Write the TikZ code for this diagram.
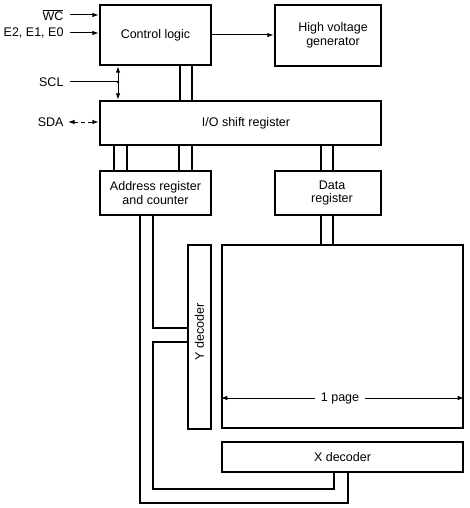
\documentclass[tikz,border=0pt]{standalone}
\usepackage{fontspec}
\setmainfont{Liberation Sans}
\usetikzlibrary{arrows.meta}

\tikzset{
  box/.style={draw, line width=2.4pt, inner sep=0pt, align=center},
  bus/.style={line width=1.5pt},
  sig/.style={line width=1pt, -{Latex[length=6.5pt,width=4.5pt]}},
  sigs/.style={line width=1pt, {Latex[length=6.5pt,width=4.5pt]}-{Latex[length=6.5pt,width=4.5pt]}},
}

\begin{document}
\begin{tikzpicture}[x=1pt, y=-1pt, font=\fontsize{12.5}{13.5}\selectfont]
  \useasboundingbox (0,0) rectangle (469,508);
  % blocks
  \node[box, minimum width=111pt, minimum height=60pt]  (ctrl)  at (155.5,35)  {Control logic};
  \node[box, minimum width=106pt, minimum height=61pt]  (hv)    at (328,35.5)  {};
  \node[box, minimum width=281pt, minimum height=44pt]  (io)    at (240.5,123) {};
  \node[box, minimum width=111pt, minimum height=44pt]  (addr)  at (155.5,193) {Address register\\and counter};
  \node[box, minimum width=106pt, minimum height=44pt]  (data)  at (328,193)   {};
  \node[box, minimum width=23pt,  minimum height=184pt] (ydec)  at (199.5,337) {};
  \node[box, minimum width=241pt, minimum height=183pt] (array) at (342.5,336.5) {};
  \node[box, minimum width=241pt, minimum height=30pt]  (xdec)  at (342.5,457) {X decoder};
  \node[align=center] (hvlbl)   at ([xshift=5pt]hv.center)   {High voltage\\generator};
  \node               (iolbl)   at ([xshift=5.5pt]io.center) {I/O shift register};
  \node[align=center] (datalbl) at ([xshift=4pt]data.center) {Data\\register};
  \node[rotate=90]    (ylbl)    at ([yshift=5pt]ydec.center) {Y decoder};

  % inputs
  \node[anchor=east] (wc)  at (67,15)  {$\overline{\mbox{WC}}$};
  \node[anchor=east] (en)  at (67,33)  {E2, E1, E0};
  \node[anchor=east] (scl) at (67,82)  {SCL};
  \node[anchor=east] (sda) at (67,122) {SDA};
  \foreach \pin in {wc, en}
    \draw[sig, shorten <=3pt] (\pin) -- (\pin -| ctrl.west);
  \coordinate (jn) at (118,82);
  \draw[line width=1pt, shorten <=3pt] (scl) -- (jn);
  \fill (jn) circle (1.3pt);
  \draw[sigs] (ctrl.south -| jn) -- (io.north -| jn);
  \draw[sigs, dash pattern=on 4pt off 3pt, shorten <=1pt] (sda) -- (sda -| io.west);
  \draw[sig] (ctrl.east) -- (ctrl.east -| hv.west);

  % buses
  \foreach \bx in {180,192} {
    \coordinate (b) at (\bx,0);
    \draw[bus] (ctrl.south -| b) -- (io.north -| b);
  }
  \foreach \bx in {114,127,179,192} {
    \coordinate (b) at (\bx,0);
    \draw[bus] (io.south -| b) -- (addr.north -| b);
  }
  \foreach \bx in {321,333} {
    \coordinate (b) at (\bx,0);
    \draw[bus] (io.south -| b) -- (data.north -| b);
    \draw[bus] (data.south -| b) -- (array.north -| b);
  }
  \coordinate (ao) at (140,503);
  \coordinate (xo) at (348,503);
  \coordinate (ai) at (153,489);
  \coordinate (xi) at (334,489);
  \coordinate (ya) at (0,328);
  \coordinate (yb) at (0,342);
  \draw[bus] (addr.south -| ao) |- (xo) -- (xdec.south -| xo);
  \draw[bus] (addr.south -| ai) |- (ydec.west |- ya);
  \draw[bus] (ydec.west |- yb) -| (ai) -| (xdec.south -| xi);

  % page width
  \coordinate (pg) at (340,398);
  \draw[sigs] (array.west |- pg) -- (array.east |- pg);
  \node[fill=white, inner xsep=6pt, inner ysep=1pt] (page) at (pg) {1 page};
\end{tikzpicture}
\end{document}
